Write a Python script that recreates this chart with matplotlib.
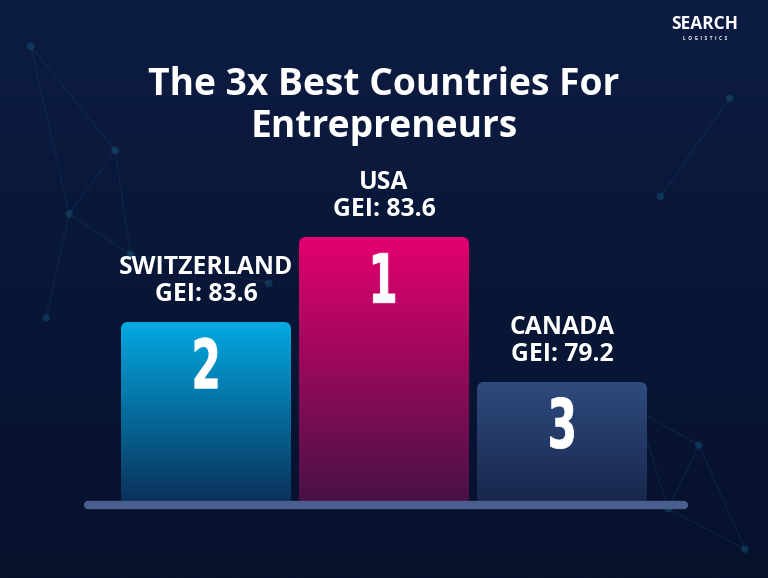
"""
Podium chart: the 3 best countries for entrepreneurs (GEI scores).
"""

import matplotlib.pyplot as plt
import matplotlib.transforms as mtransforms
import numpy as np
from matplotlib.colors import LinearSegmentedColormap
from matplotlib.font_manager import FontProperties
from matplotlib.patches import FancyBboxPatch, PathPatch
from matplotlib.textpath import TextPath

# ---------------------------------------------------------------------------
# Data
# ---------------------------------------------------------------------------
countries = ["SWITZERLAND", "USA", "CANADA"]
gei_scores = [83.6, 83.6, 79.2]
ranks = [2, 1, 3]
# podium height of each block (pixels above the baseline)
podium_heights = [183, 268, 123]

TITLE = "The 3x Best Countries For\nEntrepreneurs"

# gradient colours per block (top, bottom)
BAR_GRADIENTS = [
    ("#02a9e1", "#0a2f58"),
    ("#e4006f", "#461246"),
    ("#2f4b7d", "#17264c"),
]
BG_TOP = "#0c1c42"
BG_BOTTOM = "#06112c"
BASE_COLOR = "#4a5f8e"
TEXT_COLOR = "white"
FONT = ["Open Sans", "DejaVu Sans"]

# decorative network in the background (figure fractions)
net_nodes = [(0.04, 0.92), (0.15, 0.74), (0.09, 0.63), (0.35, 0.51), (0.17, 0.56),
             (0.06, 0.45), (0.83, 0.29), (0.91, 0.23), (0.87, 0.12), (0.97, 0.05),
             (0.95, 0.83), (0.86, 0.66)]
net_edges = [(0, 1), (1, 2), (1, 4), (2, 4), (2, 5), (4, 3), (0, 2),
             (6, 7), (7, 8), (8, 9), (6, 8), (7, 9), (10, 11)]

W, H = 768, 578
fig = plt.figure(figsize=(W / 100, H / 100), dpi=100)

# background gradient
bg_ax = fig.add_axes([0, 0, 1, 1])
bg_ax.set_axis_off()
bg_cmap = LinearSegmentedColormap.from_list("bg", [BG_BOTTOM, BG_TOP])
bg_ax.imshow(np.linspace(1, 0, 256).reshape(-1, 1), cmap=bg_cmap,
             aspect="auto", extent=(0, 1, 0, 1))
for a, b in net_edges:
    bg_ax.plot([net_nodes[a][0], net_nodes[b][0]], [net_nodes[a][1], net_nodes[b][1]],
               color="#1f5f8a", lw=0.8, alpha=0.22)
bg_ax.scatter([p[0] for p in net_nodes], [p[1] for p in net_nodes], s=30,
              color="#1c6a8e", alpha=0.35, edgecolors="none")
bg_ax.set_xlim(0, 1)
bg_ax.set_ylim(0, 1)

# main axes: 1 y-unit = 1 pixel, x = category index
px_per_cat = 178
base_left, base_right = 88, 684
base_y = 505
ax = fig.add_axes([base_left / W, (H - base_y) / H,
                   (base_right - base_left) / W, 360 / H])
ax.set_facecolor("none")
ax.set_axis_off()
left_units = (384 - base_left) / px_per_cat
ax.set_xlim(1 - left_units, 1 - left_units + (base_right - base_left) / px_per_cat)
ax.set_ylim(0, 360)

# condensed bold digit glyphs
digit_prop = FontProperties(family="DejaVu Sans", weight="bold")
digit_size = 68      # px
digit_squeeze = 0.62  # horizontal compression
digit_drop = 41      # px below the top of the block

bar_width = 170 / px_per_cat
radius_px = 7
for i, (h, (c_top, c_bot)) in enumerate(zip(podium_heights, BAR_GRADIENTS)):
    x0 = i - bar_width / 2
    patch = FancyBboxPatch((x0, 0), bar_width, h,
                           boxstyle=f"round,pad=0,rounding_size={radius_px / px_per_cat}",
                           mutation_aspect=px_per_cat,
                           facecolor="none", edgecolor="none")
    ax.add_patch(patch)
    cmap = LinearSegmentedColormap.from_list(f"bar{i}", [c_bot, c_top])
    im = ax.imshow(np.linspace(1, 0, 256).reshape(-1, 1), cmap=cmap,
                   aspect="auto", extent=(x0, x0 + bar_width, 0, h), zorder=2)
    im.set_clip_path(patch)

    # rank number inside the block
    tp = TextPath((0, 0), str(ranks[i]), size=digit_size, prop=digit_prop)
    ext = tp.get_extents()
    tr = (mtransforms.Affine2D()
          .translate(-(ext.x0 + ext.x1) / 2, -(ext.y0 + ext.y1) / 2)
          .scale(digit_squeeze, 1)
          .translate(0, -digit_drop)
          + mtransforms.ScaledTranslation(i, h, ax.transData))
    ax.add_patch(PathPatch(tp, transform=tr, facecolor=TEXT_COLOR,
                           edgecolor=TEXT_COLOR, lw=0.6, zorder=4))

    # country and score above the block
    ax.annotate(f"{countries[i]}\nGEI: {gei_scores[i]}", xy=(i, h), xytext=(0, 10.5),
                textcoords="offset points", ha="center", va="bottom",
                color=TEXT_COLOR, fontsize=17.8, family=FONT,
                fontweight="bold", linespacing=1.15, zorder=4)

# baseline of the podium
ax.plot(ax.get_xlim(), [0, 0], color=BASE_COLOR, lw=6, solid_capstyle="round",
        zorder=3, clip_on=False)

# title
fig.text(0.5, 1 - 106 / H, TITLE, ha="center", va="center", color=TEXT_COLOR,
         fontsize=26.8, family=FONT, fontweight="bold", linespacing=1.12)

# logo
fig.text(705 / W, 1 - 24 / H, "SEARCH", ha="center", va="center", color=TEXT_COLOR,
         fontsize=12.5, family=FONT, fontweight="bold")
fig.text(705 / W, 1 - 38 / H, "L  O  G  I  S  T  I  C  S", ha="center", va="center",
         color=TEXT_COLOR, fontsize=3.5, family=FONT, fontweight="bold")

fig.savefig("out.png", dpi=100)
plt.close(fig)
